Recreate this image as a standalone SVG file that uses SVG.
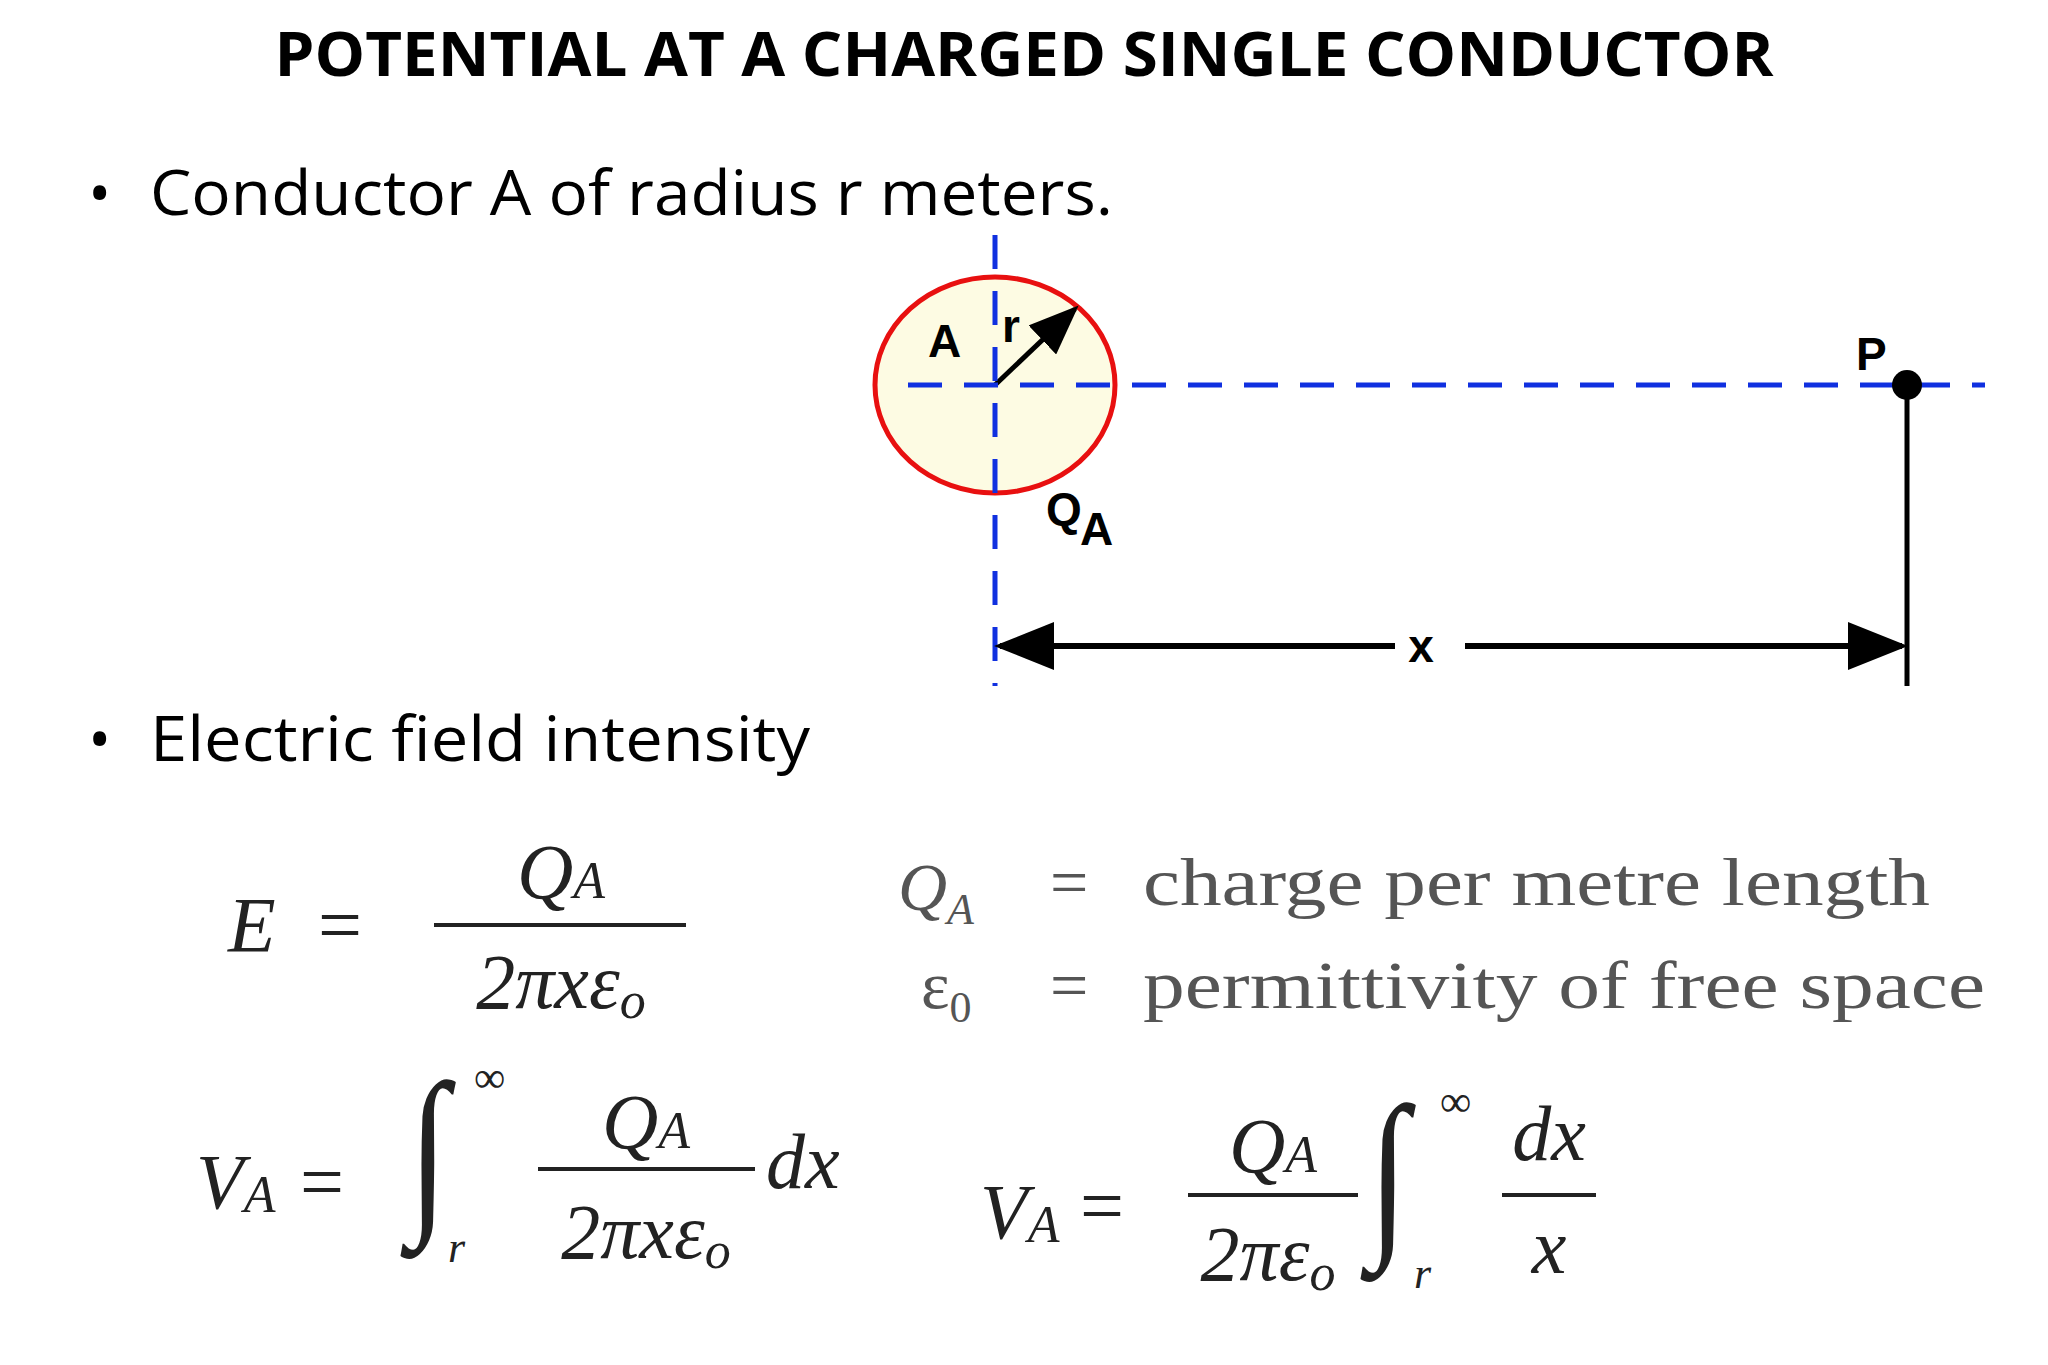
<svg xmlns="http://www.w3.org/2000/svg" width="2048" height="1365" viewBox="0 0 2048 1365">
<style>
.t{font-family:"Open Sans","Liberation Sans",sans-serif;fill:#000}
.m{font-family:"Liberation Serif",serif;font-style:italic;fill:#222}
.u{font-family:"Liberation Serif",serif;fill:#222}
.g{font-family:"Liberation Serif",serif;fill:#555;font-size:68px}
.lab{font-family:"Liberation Sans",sans-serif;font-weight:bold;font-size:46px;fill:#000}
.blue{stroke:#1030e0;stroke-width:5;stroke-dasharray:34 22;fill:none}
</style>
<defs>
<marker id="ah" markerWidth="10" markerHeight="8" refX="9" refY="4" orient="auto" markerUnits="strokeWidth"><path d="M0,0 L10,4 L0,8 z" fill="#000"/></marker>
</defs>
<rect width="2048" height="1365" fill="#fff"/>
<text class="t" x="1024" y="76" font-size="60" font-weight="bold" text-anchor="middle" textLength="1499" lengthAdjust="spacingAndGlyphs">POTENTIAL AT A CHARGED SINGLE CONDUCTOR</text>
<g id="bullet1"><text class="t" x="88" y="215" font-size="62">•</text><text class="t" x="150" y="215" font-size="62" textLength="963" lengthAdjust="spacingAndGlyphs">Conductor A of radius r meters.</text></g>
<g id="bullet2"><text class="t" x="88" y="761" font-size="62">•</text><text class="t" x="150" y="761" font-size="62" textLength="660" lengthAdjust="spacingAndGlyphs">Electric field intensity</text></g>
<g id="conductor">
<ellipse cx="995" cy="385" rx="120" ry="108" fill="#fdfbe3" stroke="#e81010" stroke-width="5"/>
<text class="lab" x="928" y="357">A</text>
<text class="lab" x="1002" y="342" font-size="40">r</text>
<line x1="995" y1="385" x2="1075" y2="309" stroke="#000" stroke-width="5" marker-end="url(#ah)"/>
<text class="lab" x="1046" y="525">Q</text><text class="lab" x="1080" y="545" font-size="32">A</text>
</g>
<g id="connectors">
<line class="blue" x1="995" y1="235" x2="995" y2="686"/>
<line class="blue" x1="908" y1="385" x2="1985" y2="385"/>
<line x1="1907" y1="385" x2="1907" y2="686" stroke="#000" stroke-width="5"/>
<line x1="1395" y1="646" x2="1000" y2="646" stroke="#000" stroke-width="6" marker-end="url(#ah)"/>
<line x1="1465" y1="646" x2="1902" y2="646" stroke="#000" stroke-width="6" marker-end="url(#ah)"/>
<text class="lab" x="1421" y="662" text-anchor="middle">x</text>
</g>
<g id="P"><circle cx="1907" cy="385" r="15" fill="#000"/><text class="lab" x="1856" y="370">P</text></g>
<g id="eq1">
<text class="m" x="228" y="951" font-size="78">E</text>
<text class="u" x="318" y="951" font-size="78">=</text>
<text class="m" x="561" y="898" font-size="78" text-anchor="middle">Q<tspan font-size="52">A</tspan></text>
<line x1="434" y1="925" x2="686" y2="925" stroke="#222" stroke-width="4"/>
<text class="m" x="561" y="1008" font-size="78" text-anchor="middle">2πxε<tspan font-size="52" dy="10">o</tspan></text>
</g>
<g id="defs">
<text class="g" x="898" y="910" font-style="italic">Q<tspan font-size="44" dy="14">A</tspan></text>
<text class="g" x="1050" y="905">=</text>
<text class="g" x="1143" y="905" textLength="787" lengthAdjust="spacingAndGlyphs">charge per metre length</text>
<text class="g" x="921" y="1008">ε<tspan font-size="44" dy="14">0</tspan></text>
<text class="g" x="1050" y="1008">=</text>
<text class="g" x="1143" y="1008" textLength="842" lengthAdjust="spacingAndGlyphs">permittivity of free space</text>
</g>
<g id="eq2">
<text class="m" x="196" y="1208" font-size="78">V<tspan font-size="52" dy="4">A</tspan></text>
<text class="u" x="300" y="1208" font-size="78">=</text>
<text class="m" transform="translate(408,1210) scale(0.8,1)" font-size="183">∫</text>
<text class="u" x="474" y="1092" font-size="44">∞</text>
<text class="m" x="448" y="1262" font-size="44">r</text>
<text class="m" x="646" y="1148" font-size="78" text-anchor="middle">Q<tspan font-size="52">A</tspan></text>
<line x1="538" y1="1169" x2="755" y2="1169" stroke="#222" stroke-width="4"/>
<text class="m" x="646" y="1258" font-size="78" text-anchor="middle">2πxε<tspan font-size="52" dy="10">o</tspan></text>
<text class="m" x="766" y="1188" font-size="78">dx</text>
</g>
<g id="eq3">
<text class="m" x="980" y="1238" font-size="78">V<tspan font-size="52" dy="4">A</tspan></text>
<text class="u" x="1080" y="1232" font-size="78">=</text>
<text class="m" x="1273" y="1172" font-size="78" text-anchor="middle">Q<tspan font-size="52">A</tspan></text>
<line x1="1188" y1="1195" x2="1358" y2="1195" stroke="#222" stroke-width="4"/>
<text class="m" x="1268" y="1280" font-size="78" text-anchor="middle">2πε<tspan font-size="52" dy="10">o</tspan></text>
<text class="m" transform="translate(1368,1233) scale(0.8,1)" font-size="183">∫</text>
<text class="u" x="1440" y="1116" font-size="44">∞</text>
<text class="m" x="1414" y="1288" font-size="44">r</text>
<text class="m" x="1549" y="1160" font-size="78" text-anchor="middle">dx</text>
<line x1="1502" y1="1195" x2="1596" y2="1195" stroke="#222" stroke-width="4"/>
<text class="m" x="1549" y="1273" font-size="78" text-anchor="middle">x</text>
</g>
</svg>
